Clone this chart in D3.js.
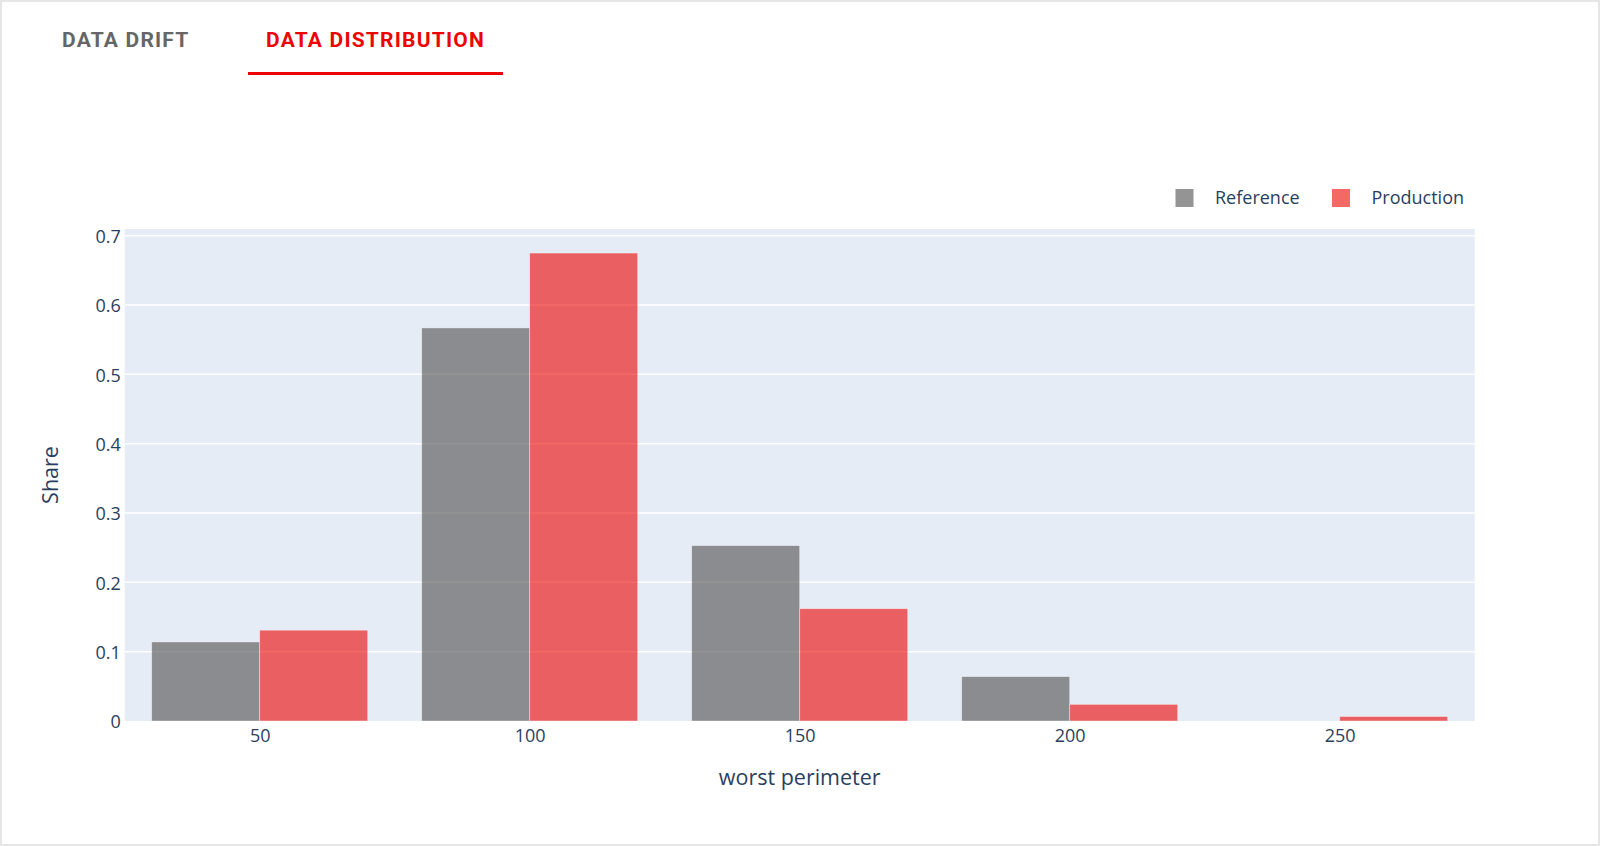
<!DOCTYPE html>
<html>
<head>
<meta charset="utf8">
<style>
  html, body { margin: 0; padding: 0; background: #fff; }
  #canvas { width: 1600px; height: 846px; }
</style>
</head>
<body>
<div id="canvas"></div>
<script src="https://cdn.jsdelivr.net/npm/d3@7"></script>
<script>

// data
const binCenters = [50, 100, 150, 200, 250];
const referenceShare = [0.114, 0.567, 0.253, 0.064, 0];
const productionShare = [0.131, 0.675, 0.162, 0.024, 0.0065];
const xTicks = [50, 100, 150, 200, 250];
const yTicks = [0, 0.1, 0.2, 0.3, 0.4, 0.5, 0.6, 0.7];
const seriesNames = ['Reference', 'Production'];
const seriesColors = ['#4d4d4d', '#ed0400'];
const tabs = ['DATA DRIFT', 'DATA DISTRIBUTION'];

const W = 1600, H = 846;
const svg = d3.select('#canvas').append('svg')
    .attr('width', W)
    .attr('height', H)
    .attr('viewBox', `0 0 ${W} ${H}`);

// page frame
svg.append('rect')
    .attr('x', 1).attr('y', 1)
    .attr('width', W - 2).attr('height', H - 2)
    .attr('fill', '#fff')
    .attr('stroke', '#e6e6e6')
    .attr('stroke-width', 2);

// tabs
const tabX = [62, 266];
svg.selectAll('text.tab')
    .data(tabs)
    .join('text')
    .attr('class', 'tab')
    .attr('x', (d, i) => tabX[i])
    .attr('y', 47)
    .attr('font-family', 'Roboto, sans-serif')
    .attr('font-weight', 700)
    .attr('font-size', '21px')
    .attr('letter-spacing', '1.2px')
    .attr('fill', (d, i) => i == 1 ? '#ed0400' : '#666666')
    .text(d => d);

svg.append('rect')
    .attr('x', 248).attr('y', 72)
    .attr('width', 255).attr('height', 3)
    .attr('fill', '#ed0400');

// plot area
const plot = {left: 124.7, right: 1474.7, top: 229, bottom: 721};

const x = d3.scaleLinear()
    .domain([25, 275])
    .range([plot.left, plot.right]);

const y = d3.scaleLinear()
    .domain([0, 0.7097])
    .range([plot.bottom, plot.top]);

const font = '"Open Sans", sans-serif';
const textColor = '#2a3f5f';

svg.append('rect')
    .attr('x', plot.left).attr('y', plot.top)
    .attr('width', plot.right - plot.left)
    .attr('height', plot.bottom - plot.top)
    .attr('fill', '#e5ecf6');

// y grid
svg.append('g')
    .selectAll('line')
    .data(yTicks.filter(d => d > 0))
    .join('line')
    .attr('x1', plot.left).attr('x2', plot.right)
    .attr('y1', d => y(d)).attr('y2', d => y(d))
    .attr('stroke', '#fff')
    .attr('stroke-width', 1.5);

// axes
const yAxis = d3.axisLeft(y)
    .tickValues(yTicks)
    .tickSize(0)
    .tickPadding(4)
    .tickFormat(d => d3.format('~g')(d));

const gy = svg.append('g')
    .attr('transform', `translate(${plot.left},1)`)
    .call(yAxis);
gy.select('.domain').remove();
gy.selectAll('text')
    .attr('font-family', font)
    .attr('font-size', '18px')
    .attr('fill', textColor);

const xAxis = d3.axisBottom(x)
    .tickValues(xTicks)
    .tickSize(0)
    .tickPadding(8);

const gx = svg.append('g')
    .attr('transform', `translate(0,${plot.bottom})`)
    .call(xAxis);
gx.select('.domain').remove();
gx.selectAll('text')
    .attr('font-family', font)
    .attr('font-size', '18px')
    .attr('fill', textColor);

// bars: bins of 50 wide, bargap 0.2, two bars per group
const binW = 50, gap = 0.2;
const barW = binW * (1 - gap) / 2;
const series = [referenceShare, productionShare];

series.forEach((vals, s) => {
    svg.append('g')
        .selectAll('rect')
        .data(vals.map((v, i) => ({c: binCenters[i], v: v})).filter(d => d.v > 0))
        .join('rect')
        .attr('x', d => x(d.c - binW * (1 - gap) / 2 + s * barW))
        .attr('width', d => x(barW) - x(0))
        .attr('y', d => y(d.v))
        .attr('height', d => y(0) - y(d.v))
        .attr('fill', seriesColors[s])
        .attr('fill-opacity', 0.6)
        .attr('stroke', '#ffffff')
        .attr('stroke-opacity', 0.5)
        .attr('stroke-width', 0.75);
});

// axis titles
svg.append('text')
    .attr('x', (plot.left + plot.right) / 2)
    .attr('y', 785)
    .attr('text-anchor', 'middle')
    .attr('font-family', font)
    .attr('font-size', '21.5px')
    .attr('fill', textColor)
    .text('worst perimeter');

svg.append('text')
    .attr('transform', `translate(58,${(plot.top + plot.bottom) / 2}) rotate(-90)`)
    .attr('text-anchor', 'middle')
    .attr('font-family', font)
    .attr('font-size', '21.5px')
    .attr('fill', textColor)
    .text('Share');

// legend
const legendX = [1175.5, 1332];
const legend = svg.append('g');
seriesNames.forEach((name, i) => {
    legend.append('rect')
        .attr('x', legendX[i]).attr('y', 189)
        .attr('width', 18).attr('height', 18)
        .attr('fill', seriesColors[i])
        .attr('fill-opacity', 0.6);
    legend.append('text')
        .attr('x', legendX[i] + 39.5)
        .attr('y', 198)
        .attr('dy', '0.35em')
        .attr('font-family', font)
        .attr('font-size', '18px')
        .attr('fill', textColor)
        .text(name);
});
</script>

</body>
</html>
